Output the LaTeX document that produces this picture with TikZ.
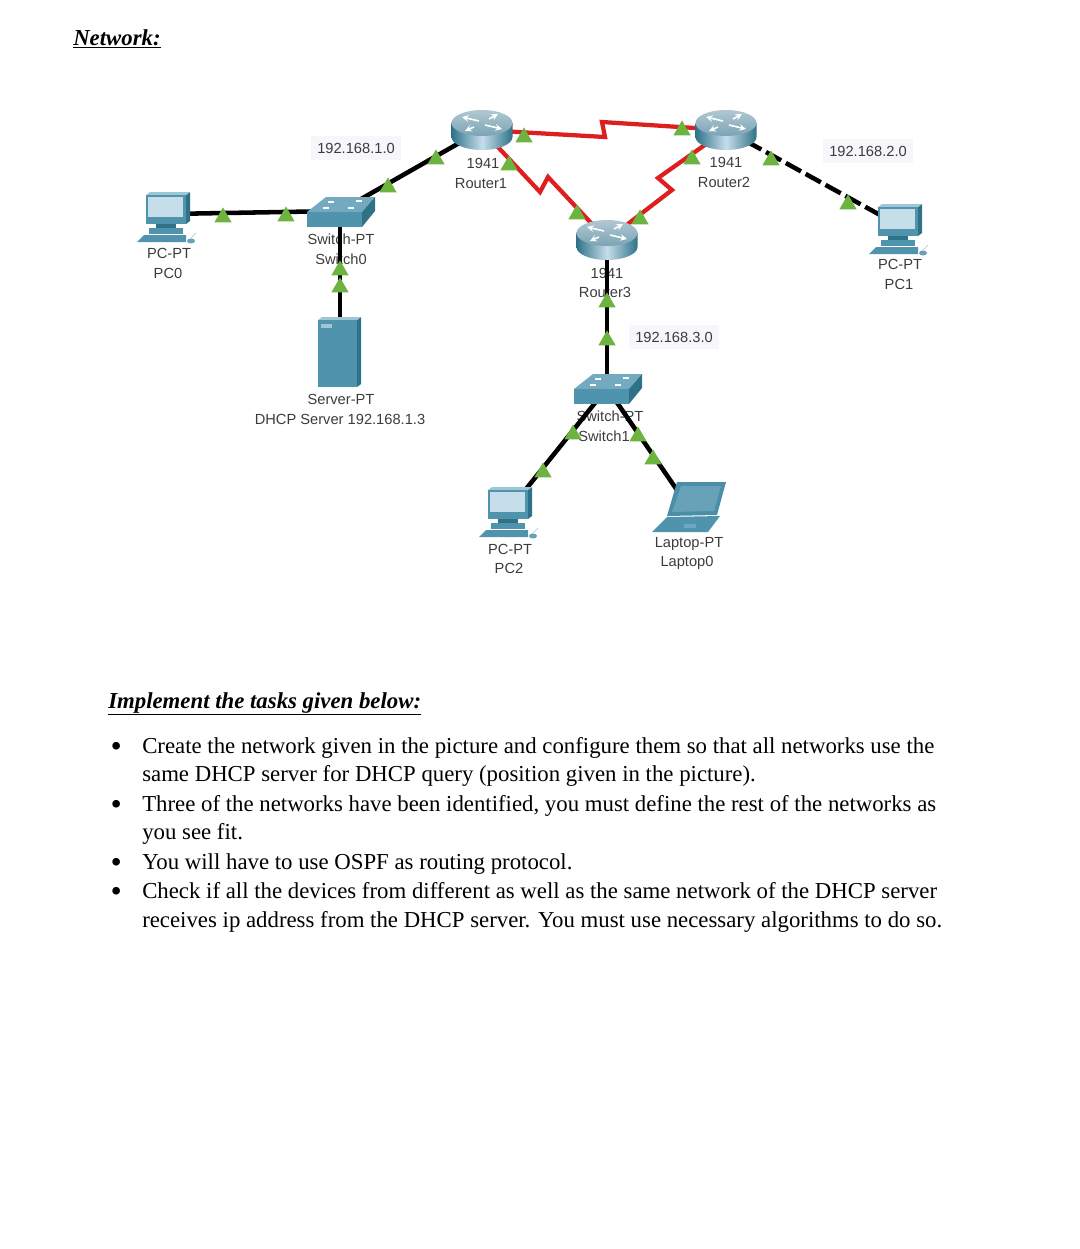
\documentclass[tikz,border=0pt]{standalone}
\usepackage{fontspec}
\setmainfont{Liberation Serif}
\newfontfamily\labelfont{Liberation Sans}
\usetikzlibrary{shapes.geometric}

\definecolor{icondark}{HTML}{2F7288}
\definecolor{iconmid}{HTML}{4F93AD}
\definecolor{iconlight}{HTML}{9FC6D6}
\definecolor{screenblue}{HTML}{C6DDEA}
\definecolor{routertop}{HTML}{8FB0C0}
\definecolor{lampgreen}{HTML}{6CB33F}
\definecolor{serialred}{HTML}{DE1F1F}
\definecolor{netbox}{HTML}{F6F6FB}
\definecolor{labelgrey}{HTML}{3C3C3C}

\tikzset{
    anchorpt/.style={inner sep=0pt, minimum size=0pt},
    devlabel/.style={font=\labelfont\fontsize{11}{13}\selectfont, text=labelgrey, inner sep=0pt},
    netlabel/.style={devlabel, fill=netbox, inner xsep=5pt, inner ysep=5pt},
    cable/.style={line width=3.4pt, black},
    serial/.style={line width=3.2pt, serialred},
    lamp/.style={regular polygon, regular polygon sides=3, fill=lampgreen, inner sep=0pt, minimum size=15pt, yshift=-1.8pt},
    bodyline/.style={anchor=base west, inner sep=0pt, font=\fontsize{17.1}{20}\selectfont},
    bulletmark/.style={anchor=base west, inner sep=0pt, font=\fontsize{21}{21}\selectfont\bfseries},
    headline/.style={anchor=base west, inner sep=0pt, font=\fontsize{17.1}{20}\selectfont\bfseries\itshape},
    % Computer: monitor, stand, keyboard, mouse
    pics/pcdev/.style={code={
        \fill[icondark] (18,-19) -- (22,-22) -- (22,7) -- (18,10) -- cycle;
        \fill[iconlight] (-22,-19) -- (-18,-22) -- (22,-22) -- (18,-19) -- cycle;
        \fill[iconmid] (-22,-19) rectangle (18,10);
        \fill[screenblue] (-20,-17) rectangle (15,3);
        \fill[icondark] (-12,10) rectangle (8,14);
        \fill[iconmid] (-19,14) rectangle (15,20);
        \fill[iconmid] (-31,28) -- (-24,21) -- (18,21) -- (18,28) -- cycle;
        \fill[iconmid!70!iconlight] (23,27) ellipse (4 and 2.5);
        \draw[iconlight, thin] (22,25) .. controls (24,22) and (27,22) .. (28,19);
    }},
    % Switch: slanted top and side over a front strip
    pics/swdev/.style={code={
        \fill[iconmid!55!iconlight] (-33,1) -- (-14,-14) -- (35,-14) -- (22,1) -- cycle;
        \fill[icondark] (22,1) -- (35,-14) -- (35,0) -- (22,16) -- cycle;
        \fill[iconmid] (-33,1) rectangle (22,16);
        \foreach \mx/\my in {-12/-9, 16/-10, -17/-3, 8/-3}
            \draw[white, line width=0.8pt] (\mx,\my) -- ++(6,0);
    }},
    % Router: cylinder with four arrows on the lid
    pics/routerdev/.style={code={
        \shade[left color=icondark, right color=icondark, middle color=screenblue]
            (-30.5,-7) -- (-30.5,7) arc (180:0:30.5 and 13) -- (30.5,-7) -- cycle;
        \shade[top color=routertop!70!white, bottom color=routertop!80!icondark] (0,-7) ellipse (30.5 and 13);
        \draw[white, line width=1.2pt, ->, >=stealth] (-3,-9) -- (-20,-13);
        \draw[white, line width=1.2pt, ->, >=stealth] (3,-5) -- (20,-1);
        \draw[white, line width=1.2pt, ->, >=stealth] (-8,-3) -- (-17,1);
        \draw[white, line width=1.2pt, ->, >=stealth] (7,-11) -- (16,-16);
    }},
    % Server tower
    pics/serverdev/.style={code={
        \fill[icondark] (17,-32) -- (21,-35) -- (21,32) -- (17,35) -- cycle;
        \fill[iconlight] (-22,-32) -- (-18,-35) -- (21,-35) -- (17,-32) -- cycle;
        \fill[iconmid] (-22,-32) rectangle (17,35);
        \fill[iconlight] (-19,-28) rectangle (-8,-24);
    }},
    % Laptop: screen above a flat base
    pics/laptopdev/.style={code={
        \fill[iconmid!85!icondark] (-13,-27) -- (36,-27) -- (27,6) -- (-23,7) -- cycle;
        \fill[iconmid!70!iconlight] (-9,-23) -- (31,-23) -- (24,2) -- (-18,3) -- cycle;
        \fill[iconmid] (-23,8) -- (-38,23) -- (18,23) -- (30,7) -- cycle;
        \fill[iconmid!60!iconlight] (-6,15) rectangle (6,19);
    }},
}

\begin{document}
\begin{tikzpicture}[>=stealth, x=0.75pt, y=-0.75pt]
    \useasboundingbox (0,0) rectangle (1080,1249);

    % 1. Heading above the network
    \node[headline] (titleNet) at (73,45) {\underline{Network:}};

    % 2. Device positions (centre of each icon)
    \node[anchorpt] (pc0) at (168,214) {};
    \node[anchorpt] (switch0) at (340,211) {};
    \node[anchorpt] (server0) at (340,352) {};
    \node[anchorpt] (router1) at (482,130) {};
    \node[anchorpt] (router2) at (726,130) {};
    \node[anchorpt] (router3) at (607,240) {};
    \node[anchorpt] (pc1) at (900,226) {};
    \node[anchorpt] (switch1) at (607,388) {};
    \node[anchorpt] (pc2) at (510,509) {};
    \node[anchorpt] (laptop0) at (690,509) {};

    % Corners of the serial zigzags
    \coordinate (kinkAa) at (605,137);
    \coordinate (kinkAb) at (602,122);
    \coordinate (kinkBa) at (540,192);
    \coordinate (kinkBb) at (548,177);
    \coordinate (kinkCa) at (658,178);
    \coordinate (kinkCb) at (672,190);

    % 3. Labels, drawn first so the cables run over them
    \node[netlabel] (net1) at (356,148) {192.168.1.0};
    \node[netlabel] (net2) at (868,151) {192.168.2.0};
    \node[netlabel] (net3) at (674,337) {192.168.3.0};

    \node[devlabel] (pc0type) at (169,253) {PC-PT};
    \node[devlabel] (pc0name) at (168,273) {PC0};
    \node[devlabel] (sw0type) at (341,239) {Switch-PT};
    \node[devlabel] (sw0name) at (341,259) {Switch0};
    \node[devlabel] (srvtype) at (341,399) {Server-PT};
    \node[devlabel] (srvname) at (340,419) {DHCP Server 192.168.1.3};
    \node[devlabel] (r1type) at (483,163) {1941};
    \node[devlabel] (r1name) at (481,184) {Router1};
    \node[devlabel] (r2type) at (726,162) {1941};
    \node[devlabel] (r2name) at (724,182) {Router2};
    \node[devlabel] (r3type) at (607,273) {1941};
    \node[devlabel] (r3name) at (605,292) {Router3};
    \node[devlabel] (pc1type) at (900,264) {PC-PT};
    \node[devlabel] (pc1name) at (899,284) {PC1};
    \node[devlabel] (sw1type) at (610,416) {Switch-PT};
    \node[devlabel] (sw1name) at (604,436) {Switch1};
    \node[devlabel] (pc2type) at (510,549) {PC-PT};
    \node[devlabel] (pc2name) at (509,568) {PC2};
    \node[devlabel] (laptype) at (689,544) {Laptop-PT};
    \node[devlabel] (lapname) at (687,563) {Laptop0};

    % 4. Copper cables
    \draw[cable] (pc0) -- (switch0);
    \draw[cable] (switch0) -- (router1);
    \draw[cable] (switch0) -- (server0);
    \draw[cable] (router3) -- (switch1);
    \draw[cable] (switch1) -- (pc2);
    \draw[cable] (switch1) -- (laptop0);
    \draw[cable, dash pattern=on 13pt off 4pt] (router2) -- (pc1);

    % Serial links between the routers
    \draw[serial] (router1) -- (kinkAa) -- (kinkAb) -- (router2);
    \draw[serial] (router1) -- (kinkBa) -- (kinkBb) -- (router3);
    \draw[serial] (router2) -- (kinkCa) -- (kinkCb) -- (router3);

    % 5. Icons on top of the cable ends
    \pic at (pc0) {pcdev};
    \pic at (pc1) {pcdev};
    \pic at (pc2) {pcdev};
    \pic at (switch0) {swdev};
    \pic at (switch1) {swdev};
    \pic at (router1) {routerdev};
    \pic at (router2) {routerdev};
    \pic at (router3) {routerdev};
    \pic at (server0) {serverdev};
    \pic at (laptop0) {laptopdev};

    % 6. Green link lights
    \foreach \lx/\ly [count=\li] in {223/215, 286/214, 388/185, 436/157, 340/268, 340/285,
            524/135, 682/128, 509/163, 577/212, 692/157, 640/217, 771/158, 848/202,
            607/300, 607/338, 573/432, 543/470, 638/434, 653/457}
        \node[lamp] (lamp\li) at (\lx,\ly) {};

    % 7. Task list
    \node[headline] (titleTask) at (108,708) {\underline{Implement the tasks given below:}};

    \node[bulletmark] (bull1) at (111,755) {\textbullet};
    \node[bulletmark] (bull2) at (111,813) {\textbullet};
    \node[bulletmark] (bull3) at (111,871) {\textbullet};
    \node[bulletmark] (bull4) at (111,900) {\textbullet};

    \node[bodyline] (line1) at (142,753) {Create the network given in the picture and configure them so that all networks use the};
    \node[bodyline] (line2) at (142,781) {same DHCP server for DHCP query (position given in the picture).};
    \node[bodyline] (line3) at (142,811) {Three of the networks have been identified, you must define the rest of the networks as};
    \node[bodyline] (line4) at (142,839) {you see fit.};
    \node[bodyline] (line5) at (142,869) {You will have to use OSPF as routing protocol.};
    \node[bodyline] (line6) at (142,898) {Check if all the devices from different as well as the same network of the DHCP server};
    \node[bodyline] (line7) at (142,927) {receives ip address from the DHCP server. You must use necessary algorithms to do so.};

\end{tikzpicture}
\end{document}
